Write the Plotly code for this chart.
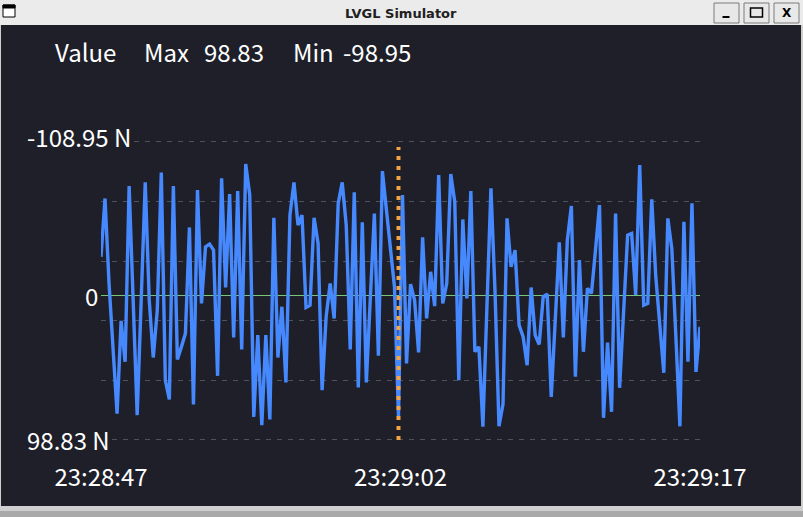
import plotly.graph_objects as go

W, H = 803, 517

# ---------------- data ----------------
values = [
    -29.1, -73.0, -9.0, 36.1, 88.9, 19.1, 49.9, -82.3, 3.5, 90.1,
    3.5, -85.1, 3.5, 46.7, 11.0, -92.6, 63.8, 78.3, -82.3, 48.2,
    38.7, 28.6, -51.2, 82.1, -79.3, 6.0, -36.6, -38.7, -34.1, 60.5,
    -88.1, -6.0, -76.3, 31.6, -78.6, 40.7, -98.95, -75.6, 91.4, 29.9,
    97.6, 29.9, 93.4, -58.5, 46.7, 8.5, 65.5, -60.5, -85.1, -53.0,
    -60.5, 9.0, 7.3, -58.5, -39.2, 71.3, 16.1, -9.0, 17.3, -69.3,
    -85.1, -53.0, 40.7, -77.6, 69.3, -55.0, 65.5, 1.0, -61.7, 45.4,
    -93.6, -64.3, -34.1, -6.5, 91.4, -75.6, 51.2, -8.5, 3.5, 42.9,
    -43.7, 17.3, -17.8, 8.0, -90.6, 6.0, -9.0, -91.4, -70.5, 63.8,
    -57.2, 2.3, -78.6, 42.4, 38.7, 98.83, 8.5, -80.6, -4.0, 98.4,
    81.8, -58.0, -21.6, -34.1, 22.3, 31.1, 52.5, -6.0, 29.9, 36.9,
    1.0, -1.0, 76.3, 18.6, -39.9, 31.6, -41.7, -67.3, 61.2, -26.6,
    42.4, -5.3, -1.5, -34.1, -68.0, 92.1, 35.4, 87.6, -61.7, 69.5,
    11.0, -45.4, -46.7, -0.3, -98.1, 7.3, 6.0, -72.3, -14.1, 21.1,
    58.2, -58.0, -34.9, 31.1, 98.5, -55.5, 49.9, -69.3, 57.5, 23.6,
]
point_index = list(range(len(values)))

cursor_index = 74
grid_top = -115.5        # value at the top grid line (axis is inverted)
grid_bottom = 108.8      # value at the bottom grid line
axis_pad = 1.5           # a little room so the end grid lines are drawn
cursor_top = -111.7

time_tick_index = [0, 74.5, 149]
time_tick_labels = ["23:28:47", "23:29:02", "23:29:17"]

y_label_top = "-108.95 N"
y_label_zero = "0"
y_label_bottom = "98.83 N"

header_labels = ["Value", "Max", "98.83", "Min", "-98.95"]
header_left_px = [53, 142, 202, 291, 341]

window_title = "LVGL Simulator"

# ---------------- styles ----------------
BG = "#1e1f29"
BLUE = "#4689ff"
ORANGE = "#f5a443"
GRID = "#4d535c"
GREEN = "#76c876"
FONT = "Noto Sans CJK SC"
FS = 24

n_grid = 6
grid_vals = [grid_top + (grid_bottom - grid_top) * k / (n_grid - 1) for k in range(n_grid)]

def px(x):
    return x / W

def py(y):
    return 1 - y / H

fig = go.Figure()

fig.add_trace(go.Scatter(
    x=point_index, y=values, mode="lines",
    line=dict(color=BLUE, width=3.4), hoverinfo="skip", showlegend=False,
))
fig.add_trace(go.Scatter(
    x=[cursor_index, cursor_index], y=[grid_bottom, cursor_top], mode="lines",
    line=dict(color=ORANGE, width=4, dash="4px,6px"), hoverinfo="skip", showlegend=False,
))

shapes = []
# window frame
shapes.append(dict(type="rect", xref="paper", yref="paper", x0=0, x1=1, y0=py(25), y1=1,
                   fillcolor="#ebebeb", line=dict(width=0), layer="below"))
shapes.append(dict(type="rect", xref="paper", yref="paper", x0=0, x1=1, y0=py(511), y1=py(506),
                   fillcolor="#cfcfcf", line=dict(width=0), layer="below"))
shapes.append(dict(type="rect", xref="paper", yref="paper", x0=0, x1=1, y0=0, y1=py(511),
                   fillcolor="#a9a9a9", line=dict(width=0), layer="below"))
shapes.append(dict(type="rect", xref="paper", yref="paper", x0=0, x1=px(1), y0=py(506), y1=py(25),
                   fillcolor="#cfcfcf", line=dict(width=0), layer="below"))
shapes.append(dict(type="rect", xref="paper", yref="paper", x0=px(801), x1=1, y0=py(506), y1=py(25),
                   fillcolor="#cfcfcf", line=dict(width=0), layer="below"))
# title icon
shapes.append(dict(type="rect", xref="paper", yref="paper", x0=px(3), x1=px(15), y0=py(17), y1=py(5),
                   fillcolor="white", line=dict(color="black", width=1)))
shapes.append(dict(type="rect", xref="paper", yref="paper", x0=px(3), x1=px(15), y0=py(8), y1=py(5),
                   fillcolor="black", line=dict(color="black", width=1)))
# title buttons
button_left = [714, 744, 774]
button_w = 25
for bx in button_left:
    shapes.append(dict(type="rect", xref="paper", yref="paper", x0=px(bx), x1=px(bx + button_w),
                       y0=py(23), y1=py(3), fillcolor="#e8e8e8",
                       line=dict(color="#7a7a7a", width=1)))
mid_c = button_left[1] + button_w / 2
shapes.append(dict(type="rect", xref="paper", yref="paper", x0=px(mid_c - 6), x1=px(mid_c + 6),
                   y0=py(17), y1=py(8), fillcolor="rgba(0,0,0,0)",
                   line=dict(color="black", width=1.5)))
low_c = button_left[0] + button_w / 2
shapes.append(dict(type="rect", xref="paper", yref="paper", x0=px(low_c - 4), x1=px(low_c + 3),
                   y0=py(18), y1=py(16), fillcolor="black", line=dict(width=0)))

annotations = []
annotations.append(dict(text="<b>" + window_title + "</b>", xref="paper", yref="paper",
                        x=px(401), y=py(13), xanchor="center", yanchor="middle", showarrow=False,
                        font=dict(family="DejaVu Sans", size=13, color="#202020")))
annotations.append(dict(text="<b>X</b>", xref="paper", yref="paper",
                        x=px(button_left[2] + button_w / 2 + 0.5), y=py(13),
                        xanchor="center", yanchor="middle",
                        showarrow=False, font=dict(family="DejaVu Sans", size=12, color="black")))

for txt, lx in zip(header_labels, header_left_px):
    annotations.append(dict(text=txt, xref="paper", yref="paper", x=px(lx), y=py(51.5),
                            xanchor="left", yanchor="middle", showarrow=False,
                            font=dict(family=FONT, size=FS, color="white")))

annotations.append(dict(text=y_label_top, xref="paper", yref="paper", x=px(132), y=py(136),
                        xanchor="right", yanchor="middle", showarrow=False, bgcolor=BG,
                        borderpad=0, font=dict(family=FONT, size=FS, color="white")))
annotations.append(dict(text=y_label_zero, xref="paper", yref="y", x=px(100), y=0,
                        xanchor="right", yanchor="middle", showarrow=False,
                        font=dict(family=FONT, size=FS, color="white")))
annotations.append(dict(text=y_label_bottom, xref="paper", yref="y", x=px(111), y=grid_bottom,
                        xanchor="right", yanchor="middle", showarrow=False, bgcolor=BG,
                        borderpad=0, font=dict(family=FONT, size=FS, color="white")))

px_per_unit = 298 / (grid_bottom - grid_top)
pad_px = axis_pad * px_per_unit

fig.update_layout(
    template="none",
    width=W, height=H, autosize=False,
    margin=dict(l=0, r=0, t=0, b=0, pad=0, autoexpand=False),
    paper_bgcolor=BG, plot_bgcolor=BG,
    shapes=shapes, annotations=annotations,
    xaxis=dict(domain=[101 / W, 700 / W], range=[0, len(values) - 1], automargin=False,
               showgrid=False, zeroline=False, showline=False,
               tickvals=time_tick_index, ticktext=time_tick_labels, ticks="",
               ticklabelstandoff=int(round(21 - pad_px)),
               tickfont=dict(family=FONT, size=FS, color="white")),
    yaxis=dict(domain=[1 - (440 + pad_px) / H, 1 - (142 - pad_px) / H],
               range=[grid_bottom + axis_pad, grid_top - axis_pad],
               automargin=False,
               tickvals=grid_vals, showticklabels=False, ticks="",
               showgrid=True, gridcolor=GRID, gridwidth=1, griddash="5px,6px",
               zeroline=True, zerolinecolor=GREEN, zerolinewidth=1, showline=False),
    showlegend=False,
)

fig.write_html(
    "out.html",
    config={"displayModeBar": False},
    post_script="document.body.style.margin='0';document.body.style.overflow='hidden';",
)
